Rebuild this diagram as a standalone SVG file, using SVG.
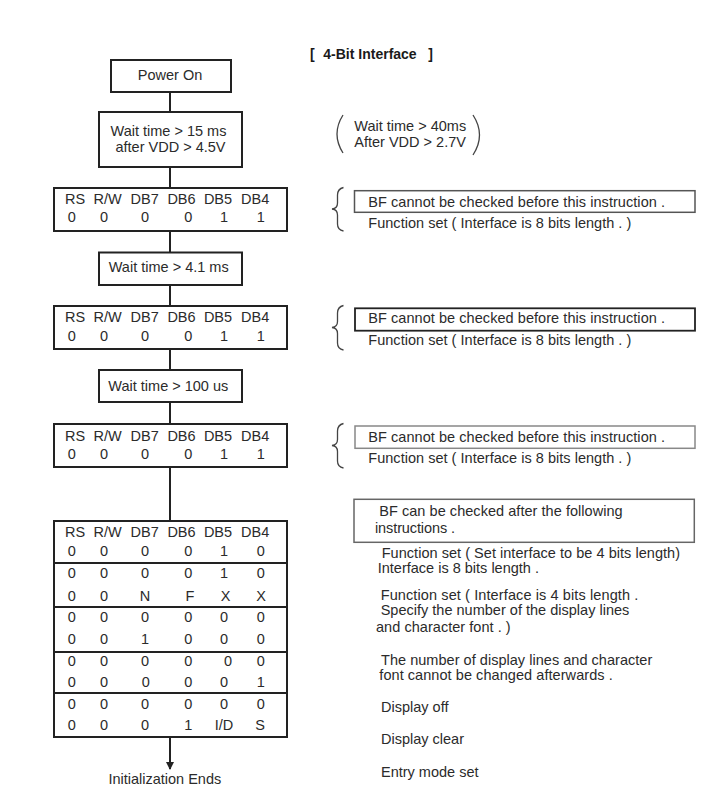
<svg xmlns="http://www.w3.org/2000/svg" width="724" height="800" viewBox="0 0 724 800">
<style>
.t{font-family:"Liberation Sans",Arial,sans-serif;font-size:14.5px;fill:#2b2b2b}
.c{text-anchor:middle}
.b{font-weight:bold;font-size:14px;fill:#1a1a1a}
.box{fill:#fff;stroke:#222;stroke-width:2}
.ln{stroke:#222;stroke-width:2;fill:none}
.nb{fill:none;stroke:#555;stroke-width:1.5}
.br{fill:none;stroke:#444;stroke-width:1.3}
</style>
<defs>
<marker id="arr" viewBox="0 0 8 8" refX="7" refY="4" markerWidth="8" markerHeight="8" markerUnits="userSpaceOnUse" orient="auto">
<path d="M0,0 L8,4 L0,8 z" fill="#222"/>
</marker>
</defs>
<rect width="724" height="800" fill="#fff"/>

<g id="connectors">
<line class="ln" x1="170" y1="92" x2="170" y2="112"/>
<line class="ln" x1="170" y1="167" x2="170" y2="188"/>
<line class="ln" x1="170" y1="231" x2="170" y2="252.5"/>
<line class="ln" x1="170" y1="285" x2="170" y2="306"/>
<line class="ln" x1="170" y1="349" x2="170" y2="370"/>
<line class="ln" x1="170" y1="402" x2="170" y2="424"/>
<line class="ln" x1="170" y1="467" x2="170" y2="521"/>
<line class="ln" x1="170" y1="737" x2="170" y2="769" marker-end="url(#arr)"/>
</g>

<g id="power-on">
<rect class="box" x="111" y="60" width="120" height="32"/>
<text class="t c" x="170" y="80">Power On</text>
</g>

<g id="wait-15ms">
<rect class="box" x="99" y="112" width="143" height="55"/>
<text class="t c" x="168.5" y="136">Wait time &gt; 15 ms</text>
<text class="t c" x="170.5" y="152.3">after VDD &gt; 4.5V</text>
</g>

<g id="reg-1">
<rect class="box" x="54" y="188" width="233" height="43"/>
<text class="t c" y="204"><tspan x="75">RS</tspan><tspan x="107.5">R/W</tspan><tspan x="144.7">DB7</tspan><tspan x="181.5">DB6</tspan><tspan x="218">DB5</tspan><tspan x="255.2">DB4</tspan></text>
<text class="t c" y="222.3"><tspan x="71.7">0</tspan><tspan x="104">0</tspan><tspan x="145">0</tspan><tspan x="188.3">0</tspan><tspan x="224">1</tspan><tspan x="260.7">1</tspan></text>
</g>

<g id="wait-4ms">
<rect class="box" x="99" y="252.5" width="143" height="32.5"/>
<text class="t c" x="168.7" y="272.3">Wait time &gt; 4.1 ms</text>
</g>

<g id="reg-2">
<rect class="box" x="54" y="306" width="233" height="43"/>
<text class="t c" y="322.3"><tspan x="75">RS</tspan><tspan x="107.5">R/W</tspan><tspan x="144.7">DB7</tspan><tspan x="181.5">DB6</tspan><tspan x="218">DB5</tspan><tspan x="255.2">DB4</tspan></text>
<text class="t c" y="340.7"><tspan x="71.7">0</tspan><tspan x="104">0</tspan><tspan x="145">0</tspan><tspan x="188.3">0</tspan><tspan x="224">1</tspan><tspan x="260.7">1</tspan></text>
</g>

<g id="wait-100us">
<rect class="box" x="99" y="370" width="143" height="32"/>
<text class="t c" x="168.3" y="391">Wait time &gt; 100 us</text>
</g>

<g id="reg-3">
<rect class="box" x="54" y="424" width="233" height="43"/>
<text class="t c" y="440.7"><tspan x="75">RS</tspan><tspan x="107.5">R/W</tspan><tspan x="144.7">DB7</tspan><tspan x="181.5">DB6</tspan><tspan x="218">DB5</tspan><tspan x="255.2">DB4</tspan></text>
<text class="t c" y="459.3"><tspan x="71.7">0</tspan><tspan x="104">0</tspan><tspan x="145">0</tspan><tspan x="188.3">0</tspan><tspan x="224">1</tspan><tspan x="260.7">1</tspan></text>
</g>

<g id="reg-4">
<rect class="box" x="54" y="521" width="233" height="216"/>
<line class="ln" x1="54" y1="563" x2="287" y2="563"/>
<line class="ln" x1="54" y1="607" x2="287" y2="607"/>
<line class="ln" x1="54" y1="652" x2="287" y2="652"/>
<line class="ln" x1="54" y1="693" x2="287" y2="693"/>
<text class="t c" y="537"><tspan x="75">RS</tspan><tspan x="107.5">R/W</tspan><tspan x="144.7">DB7</tspan><tspan x="181.5">DB6</tspan><tspan x="218">DB5</tspan><tspan x="255.2">DB4</tspan></text>
<text class="t c" y="556"><tspan x="71.7">0</tspan><tspan x="104">0</tspan><tspan x="145">0</tspan><tspan x="188.3">0</tspan><tspan x="224">1</tspan><tspan x="260.7">0</tspan></text>
<text class="t c" y="578"><tspan x="71.7">0</tspan><tspan x="104">0</tspan><tspan x="145">0</tspan><tspan x="188.3">0</tspan><tspan x="224">1</tspan><tspan x="260.7">0</tspan></text>
<text class="t c" y="600.5"><tspan x="71.7">0</tspan><tspan x="104">0</tspan><tspan x="145">N</tspan><tspan x="190">F</tspan><tspan x="225.7">X</tspan><tspan x="261">X</tspan></text>
<text class="t c" y="622"><tspan x="71.7">0</tspan><tspan x="104">0</tspan><tspan x="145">0</tspan><tspan x="188.3">0</tspan><tspan x="224">0</tspan><tspan x="260.7">0</tspan></text>
<text class="t c" y="643.5"><tspan x="71.7">0</tspan><tspan x="104">0</tspan><tspan x="145">1</tspan><tspan x="188.3">0</tspan><tspan x="224">0</tspan><tspan x="260.7">0</tspan></text>
<text class="t c" y="666"><tspan x="71.7">0</tspan><tspan x="104">0</tspan><tspan x="145">0</tspan><tspan x="188.3">0</tspan><tspan x="228">0</tspan><tspan x="260.7">0</tspan></text>
<text class="t c" y="687"><tspan x="71.7">0</tspan><tspan x="104">0</tspan><tspan x="145.7">0</tspan><tspan x="188.3">0</tspan><tspan x="224">0</tspan><tspan x="260.7">1</tspan></text>
<text class="t c" y="708.5"><tspan x="71.7">0</tspan><tspan x="104">0</tspan><tspan x="145">0</tspan><tspan x="188.3">0</tspan><tspan x="224">0</tspan><tspan x="260.7">0</tspan></text>
<text class="t c" y="730"><tspan x="71.7">0</tspan><tspan x="104">0</tspan><tspan x="145">0</tspan><tspan x="188.3">1</tspan><tspan x="224">I/D</tspan><tspan x="260">S</tspan></text>
</g>

<g id="init-ends">
<text class="t c" x="164.8" y="784">Initialization Ends</text>
</g>

<g id="title">
<text class="t b" y="59"><tspan x="310">[</tspan><tspan x="323.3">4-Bit Interface</tspan><tspan x="428.3">]</tspan></text>
</g>

<g id="note-wait">
<path class="br" d="M343,115 Q331,134 343,153"/>
<path class="br" d="M473,115 Q486,135 473,155"/>
<text class="t" x="354.3" y="130.5">Wait time &gt; 40ms</text>
<text class="t" x="354.3" y="146.7">After VDD &gt; 2.7V</text>
</g>

<g id="note-1">
<path class="br" d="M343.5,187.5 Q337.5,189 337.5,195 L337.5,203 Q337.5,208.5 332,209 Q337.5,209.5 337.5,215 L337.5,224 Q337.5,230 343.5,231"/>
<rect class="nb" x="354.5" y="190.7" width="340.5" height="21.6"/>
<text class="t" x="368.3" y="206.5" textLength="296.7">BF cannot be checked before this instruction .</text>
<text class="t" x="368.3" y="228.3" textLength="263">Function set ( Interface is 8 bits length . )</text>
</g>

<g id="note-2">
<path class="br" d="M343.5,305.5 Q337.5,307 337.5,313 L337.5,321.5 Q337.5,327 332,327.5 Q337.5,328 337.5,333.5 L337.5,343 Q337.5,349 343.5,350"/>
<rect class="nb" x="355" y="308.3" width="340" height="22.4" style="stroke:#222;stroke-width:1.8"/>
<text class="t" x="368.3" y="323.3" textLength="296.7">BF cannot be checked before this instruction .</text>
<text class="t" x="368.3" y="345" textLength="263">Function set ( Interface is 8 bits length . )</text>
</g>

<g id="note-3">
<path class="br" d="M343.5,423.5 Q337.5,425 337.5,431 L337.5,439.5 Q337.5,445 332,445.5 Q337.5,446 337.5,451.5 L337.5,461 Q337.5,467 343.5,468"/>
<rect class="nb" x="355" y="426" width="340" height="22.3" style="stroke:#888"/>
<text class="t" x="368.3" y="441.7" textLength="296.7">BF cannot be checked before this instruction .</text>
<text class="t" x="368.3" y="463.3" textLength="263">Function set ( Interface is 8 bits length . )</text>
</g>

<g id="note-4">
<rect class="nb" x="354" y="499.3" width="340.3" height="43" style="stroke:#666"/>
<text class="t" x="379.3" y="516" textLength="243.4">BF can be checked after the following</text>
<text class="t" x="375" y="533.3" textLength="80">instructions .</text>
<text class="t" x="381.7" y="558.3" textLength="298.3">Function set ( Set interface to be 4 bits length)</text>
<text class="t" x="377.7" y="573.3" textLength="161.3">Interface is 8 bits length .</text>
<text class="t" x="380.7" y="600" textLength="257.6">Function set  ( Interface is 4 bits length .</text>
<text class="t" x="380.7" y="615" textLength="248.6">Specify the number of the display lines</text>
<text class="t" x="376" y="631.7" textLength="134.7">and character font . )</text>
<text class="t" x="381" y="665" textLength="271.3">The number of display lines and character</text>
<text class="t" x="379.3" y="680" textLength="233.4">font cannot be changed afterwards .</text>
<text class="t" x="381" y="711.7">Display off</text>
<text class="t" x="381" y="744.3">Display clear</text>
<text class="t" x="381" y="776.7">Entry mode set</text>
</g>
</svg>
